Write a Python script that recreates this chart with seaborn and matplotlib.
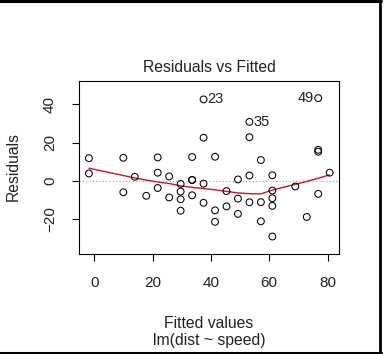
import matplotlib
matplotlib.use("Agg")
import matplotlib.pyplot as plt
from matplotlib.lines import Line2D
import pandas as pd
import seaborn as sns

# fitted values and residuals of lm(dist ~ speed), one per observation
fitted = [-1.85, -1.85, 9.95, 9.95, 13.88, 17.81, 21.74, 21.74, 21.74, 25.68,
          25.68, 29.61, 29.61, 29.61, 29.61, 33.54, 33.54, 33.54, 33.54, 37.47,
          37.47, 37.47, 37.47, 41.41, 41.41, 41.41, 45.34, 45.34, 49.27, 49.27,
          49.27, 53.20, 53.20, 53.20, 53.20, 57.13, 57.13, 57.13, 61.07, 61.07,
          61.07, 61.07, 61.07, 68.93, 72.86, 76.80, 76.80, 76.80, 76.80, 80.73]
residuals = [3.85, 11.85, -5.95, 12.05, 2.12, -7.81, -3.74, 4.26, 12.26, -8.68,
             2.32, -15.61, -9.61, -5.61, -1.61, -7.54, 0.46, 0.46, 12.46, -11.47,
             -1.47, 22.53, 42.53, -21.41, -15.41, 12.59, -13.34, -5.34, -17.27, -9.27,
             0.73, -11.20, 2.80, 22.80, 30.80, -21.13, -11.13, 10.87, -29.07, -13.07,
             -9.07, -5.07, 2.93, -2.93, -18.86, -6.80, 15.20, 16.20, 43.20, 4.27]

# red smoother
smooth_x = [-1.85, 9.95, 13.88, 17.81, 21.74, 25.68, 29.61, 33.54, 37.47, 41.41,
            45.34, 49.27, 53.20, 57.13, 61.07, 68.93, 72.86, 76.80, 80.73]
smooth_y = [6.6, 2.8, 1.5, 0.4, -0.6, -1.4, -2.6, -3.4, -4.0, -4.7,
            -5.5, -6.3, -6.7, -6.8, -4.8, -1.8, -0.3, 1.4, 3.1]

# labelled observations (1-based ids) and which side the label sits
label_ids = [23, 35, 49]
label_side = ["right", "right", "left"]

x_ticks = [0, 20, 40, 60, 80]
y_ticks = [-20, 0, 20, 40]

df = pd.DataFrame({"fitted": fitted, "resid": residuals})
sm = pd.DataFrame({"x": smooth_x, "y": smooth_y})

sns.set_style("white")
plt.rcParams["font.family"] = ["Liberation Sans", "DejaVu Sans"]

fig = plt.figure(figsize=(3.84, 3.54), dpi=100)
ax = fig.add_axes([79.3 / 384, 1 - 254 / 354, 260 / 384, 173.3 / 354])

ax.axhline(0, color="#a0a0a0", linestyle=(0, (1, 2)), linewidth=0.8, zorder=1)
sns.scatterplot(data=df, x="fitted", y="resid", ax=ax, marker="o",
                facecolor="none", edgecolor="black", linewidth=0.75, s=24, zorder=3)
sns.lineplot(data=sm, x="x", y="y", ax=ax, color="#d0102a", linewidth=1.0,
             zorder=2, estimator=None, sort=False)

for i, side in zip(label_ids, label_side):
    xx, yy = fitted[i - 1], residuals[i - 1]
    off = 3 if side == "right" else -3
    ax.annotate(str(i), (xx, yy), xytext=(off, 0), textcoords="offset points",
                ha="left" if side == "right" else "right", va="center",
                fontsize=10.5, color="#222222")

ax.set_xlim(-5.15, 84.03)
ax.set_ylim(-38.2, 52.3)
ax.set_xticks(x_ticks)
ax.set_yticks(y_ticks)
ax.set_xlabel("")
ax.set_ylabel("")
for s in ax.spines.values():
    s.set_visible(True)
    s.set_color("black")
    s.set_linewidth(0.8)
ax.tick_params(axis="both", direction="out", length=5, width=0.8, color="black",
               labelsize=11, labelcolor="#222222", pad=11,
               bottom=True, left=True)
for lab in ax.get_yticklabels():
    lab.set_rotation(90)
    lab.set_va("center")

fig.text(209 / 384, 1 - 68 / 354, "Residuals vs Fitted", ha="center", va="center",
         fontsize=11.3, color="#222222")
fig.text(209 / 384, 1 - 323 / 354, "Fitted values", ha="center", va="center",
         fontsize=11.3, color="#222222")
fig.text(209 / 384, 1 - 341 / 354, "lm(dist ~ speed)", ha="center", va="center",
         fontsize=11.3, color="#222222")
fig.text(13 / 384, 1 - 167 / 354, "Residuals", ha="center", va="center",
         rotation=90, fontsize=11.3, color="#222222")

# frame around the picture (top, right, bottom)
fig.add_artist(Line2D([0, 381 / 384], [1 - 1.2 / 354, 1 - 1.2 / 354],
                      transform=fig.transFigure, color="black", linewidth=2.2))
fig.add_artist(Line2D([380 / 384, 380 / 384], [0, 1],
                      transform=fig.transFigure, color="black", linewidth=2.0))
fig.add_artist(Line2D([0, 381 / 384], [1 - 352.5 / 354, 1 - 352.5 / 354],
                      transform=fig.transFigure, color="black", linewidth=2.2))

fig.savefig("out.png", dpi=100)
